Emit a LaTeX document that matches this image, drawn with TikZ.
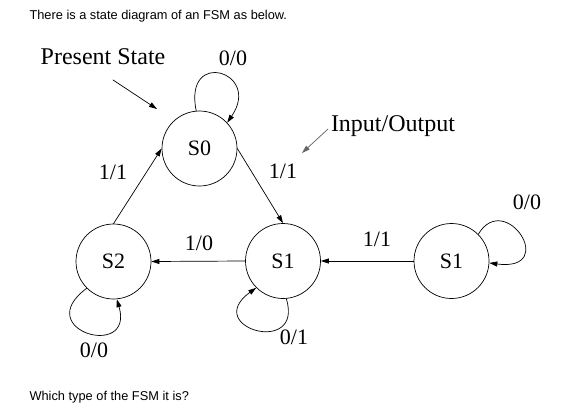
\documentclass[tikz,border=0pt]{standalone}
\usepackage{fontspec}
\setmainfont{Liberation Serif}
\setsansfont{Liberation Sans}
\usetikzlibrary{arrows.meta}

\begin{document}
\begin{tikzpicture}[line cap=round,line join=round,>={Triangle[length=8pt,width=5pt]},x=1pt,y=-1pt,
  state/.style={circle,draw,line width=0.7pt,minimum size=75pt,inner sep=0pt,font=\fontsize{22}{26}\selectfont},
  lbl/.style={font=\fontsize{22}{26}\selectfont},
  big/.style={font=\fontsize{24}{28}\selectfont},
  note/.style={font=\sffamily\fontsize{12.8}{15}\selectfont,anchor=west},
  arr/.style={->,line width=0.7pt}]
\useasboundingbox (0,0) rectangle (578,415);
\node[note] (top) at (26,16) {There is a state diagram of an FSM as below.};
\node[note] (bottom) at (26,397) {Which type of the FSM it is?};
% states
\node[state] (s0) at (199.5,148.5) {S0};
\node[state] (s1) at (283,261) {S1};
\node[state] (s2) at (113.5,261.5) {S2};
\node[state] (s3) at (451.5,261) {S1};
% transitions
\draw[arr] (s2.90) -- (s0.180);
\draw[arr] (s0.0) -- (s1.90);
\draw[arr] (s1.180) -- (s2.0);
\draw[arr] (s3.180) -- (s1.0);
\draw[arr] (s0.95) .. controls +(-13,-63) and +(35,-51) .. (s0.43);
\draw[arr] (s2.225) .. controls +(-57,42) and +(18,61) .. (s2.275);
\draw[arr] (s1.275) .. controls +(18,58) and +(-55,40) .. (s1.225);
\draw[arr] (s3.45) .. controls +(27,-45) and +(70,9) .. (s3.-3);
% labels
\node[lbl] (l00a) at (233,58) {0/0};
\node[lbl] (l11a) at (113,172) {1/1};
\node[lbl] (l11b) at (283,171) {1/1};
\node[lbl] (l10) at (199,243) {1/0};
\node[lbl] (l11c) at (377,239) {1/1};
\node[lbl] (l00b) at (527,202) {0/0};
\node[lbl] (l00c) at (94,350) {0/0};
\node[lbl] (l01) at (294,337) {0/1};
\node[big] (ps) at (103,57) {Present State};
\node[big] (io) at (393,126) {Input/Output};
\coordinate (psa) at (113,80);
\coordinate (psb) at (157,109);
\coordinate (ioa) at (328,129);
\coordinate (iob) at (302,153);
\draw[arr] (psa) -- (psb);
\draw[arr,draw=gray!80!black,fill=gray!80!black] (ioa) -- (iob);
\end{tikzpicture}
\end{document}
